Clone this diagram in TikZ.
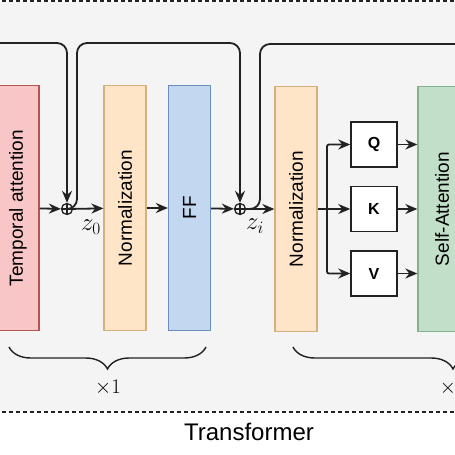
\documentclass[tikz,border=0pt]{standalone}
\usepackage[no-math]{fontspec}
\setmainfont{Liberation Sans}
\usepackage{graphicx}
\usetikzlibrary{arrows.meta,decorations.pathreplacing}

\definecolor{ink}{HTML}{222222}
\definecolor{bggray}{HTML}{F4F4F4}
\definecolor{pinkfill}{HTML}{F8C6C6}
\definecolor{pinkline}{HTML}{B85450}
\definecolor{orangefill}{HTML}{FFE5C8}
\definecolor{orangeline}{HTML}{D6B07A}
\definecolor{bluefill}{HTML}{C3D7F0}
\definecolor{blueline}{HTML}{6C8EBF}
\definecolor{greenfill}{HTML}{C2DFC9}
\definecolor{greenline}{HTML}{82B38C}

\tikzset{
  arr/.style={draw=ink, line width=1.8pt, -{Stealth[length=12pt,width=10pt]}},
  wire/.style={draw=ink, line width=1.8pt},
  dashline/.style={draw=ink, line width=1.4pt, dash pattern=on 4pt off 3pt},
  brace/.style={draw=ink, line width=1.4pt, decorate, decoration={brace, mirror, amplitude=22pt}}
}

\begin{document}
\begin{tikzpicture}[x=1pt,y=-1pt]

        \useasboundingbox (0,0) rectangle (455,455);
        \clip (0,0) rectangle (455,455);
        \fill[bggray] (-5,2) rectangle (460,412);
        \draw[dashline, line width=2pt] (-5,1.2) -- (460,1.2);
        \draw[dashline] (-5,412) -- (460,412);

        % tall blocks
        \begin{scope}[every node/.style={draw, line width=1.3pt, minimum width=42pt, minimum height=245pt, inner sep=0pt, font=\fontsize{19}{19}\selectfont}]
          \node[fill=pinkfill, draw=pinkline]     (tatt)  at (18,208)    {\rotatebox{90}{Temporal attention}};
          \node[fill=orangefill, draw=orangeline] (norma) at (125,208)   {\rotatebox{90}{Normalization}};
          \node[fill=bluefill, draw=blueline]     (ff)    at (189.5,208) {\rotatebox{90}{FF}};
          \node[fill=orangefill, draw=orangeline] (normb) at (296,209)   {\rotatebox{90}{Normalization}};
          \node[fill=greenfill, draw=greenline, minimum width=48pt] (satt) at (442,209) {\rotatebox{90}{Self-Attention}};
        \end{scope}

        \begin{scope}[every node/.style={draw=ink, fill=white, line width=1.5pt, minimum width=46pt, minimum height=45pt, font=\fontsize{16}{16}\selectfont\bfseries}]
          \node (q) at (374,144.5) {Q};
          \node (k) at (374,209)   {K};
          \node (v) at (374,273.5) {V};
        \end{scope}

        \begin{scope}[every node/.style={circle, draw=ink, line width=1.3pt, minimum size=11pt, inner sep=0pt}]
          \node (sum1) at (67,209)  {};
          \node (sum2) at (240,209) {};
        \end{scope}
        \draw[ink, line width=1.2pt] (sum1.north) -- (sum1.south) (sum1.west) -- (sum1.east);
        \draw[ink, line width=1.2pt] (sum2.north) -- (sum2.south) (sum2.west) -- (sum2.east);

        \coordinate (in1)   at (-5,43);
        \coordinate (tap1)  at (77,209);
        \coordinate (top2)  at (240,43);
        \coordinate (tap2)  at (260,209);
        \coordinate (out3)  at (460,44);
        \coordinate (split) at (327,209);

        \begin{scope}[every edge/.style={arr}]
          \path (tatt)  edge (sum1);
          \path (sum1)  edge (norma);
          \path (norma) edge (ff);
          \path (ff)    edge (sum2);
          \path (sum2)  edge (normb);
          \path (normb) edge (k);
          \path (q)     edge (q -| satt.west);
          \path (k)     edge (k -| satt.west);
          \path (v)     edge (v -| satt.west);
        \end{scope}

        % residual paths
        \draw[arr, rounded corners=10pt] (in1) -| (sum1.north);
        \draw[arr, rounded corners=10pt] (sum1.east) -- (tap1) |- (top2) -- (sum2.north);
        \draw[wire, rounded corners=10pt] (sum2.east) -- (tap2) |- (out3);
        \draw[arr, rounded corners=2pt] (split) |- (q);
        \draw[arr, rounded corners=2pt] (split) |- (v);

        \node at (91,227)  {\fontsize{24}{24}\selectfont$z_0$};
        \node at (255,226) {\fontsize{24}{24}\selectfont$z_i$};

        % repeat braces
        \draw[brace] (9,347) -- (206,347);
        \draw[brace] (293,347) -- (613,347);
        \node at (108,388) {\fontsize{20}{20}\selectfont$\times 1$};
        \node at (448,388) {\fontsize{20}{20}\selectfont$\times$};

        \node at (249,432) {\fontsize{24}{24}\selectfont Transformer};

      \end{tikzpicture}
\end{document}
